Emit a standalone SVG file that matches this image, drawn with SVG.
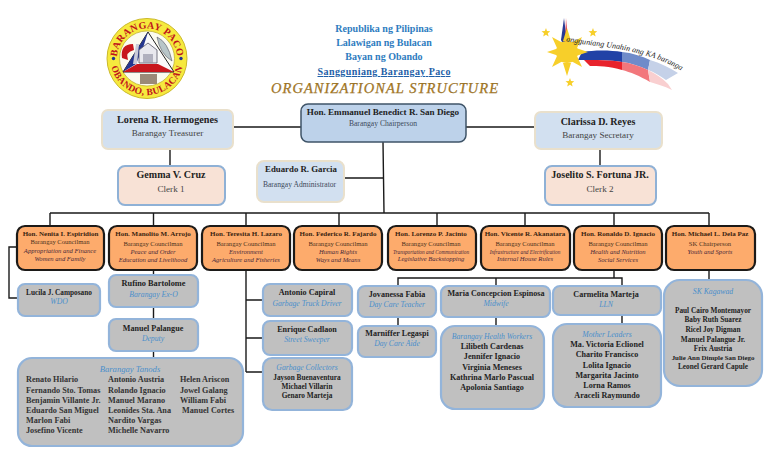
<svg xmlns="http://www.w3.org/2000/svg" width="768" height="466" viewBox="0 0 768 466">
<style>
text{font-family:"Liberation Serif","DejaVu Serif",serif;text-anchor:middle;fill:#2a2a2a}
.hd{font-weight:700;font-size:10px;fill:#2e7cc0}
.n{font-weight:700;font-size:10px;fill:#222}
.r{font-size:9.100px;fill:#444}
.cn{font-weight:700;font-size:7px;fill:#3a2410}
.cr{font-size:6.600px;fill:#4a3220}
.cr2{font-size:7.600px;fill:#3d4a5a}
.ci{font-style:italic;font-size:6.600px;fill:#4a2a3a}
.cs{font-style:italic;font-size:5.300px;fill:#4a2a3a}
.g{font-weight:700;font-size:8.100px;fill:#222}
.s{font-weight:700;font-size:7.300px;fill:#222}
.gi{font-style:italic;font-size:7.700px;fill:#4a8fcb}
.l{text-anchor:start;font-weight:700;font-size:8.200px;fill:#333}
.blue{fill:#d2e0f0;stroke:#e9e0cc;stroke-width:2}
.cl{fill:#f8e2d6;stroke:#8fb1d6;stroke-width:2}
.or{fill:#fdab6c;stroke:#1c1a18;stroke-width:2.200}
.gr{fill:#c0c0c0;stroke:#93b4da;stroke-width:2.200}
.c{fill:none;stroke:#1a1a1a;stroke-width:1.400}
.em{font-size:10px;font-weight:700;fill:#c0141c}
</style>
<defs>
<path id="arcT" d="M117 58.500A30 30 0 0 1 177 58.500"/>
<path id="arcB" d="M110.500 58.500A36.500 36.500 0 0 0 183.500 58.500"/>
<path id="arcS" d="M565 41C590 47 640 46 682 71"/>
</defs>
<rect width="768" height="466" fill="#fff"/>

<g id="emblem">
<circle cx="147" cy="58.500" r="40" fill="#f6e93e" stroke="#cbb92a" stroke-width="1"/>
<circle cx="147" cy="58.500" r="27.500" fill="#fbfbf0" stroke="#b9a92a" stroke-width=".7"/>
<path d="M123 72L148 32L174 72Z" fill="#fafafa" stroke="#222" stroke-width="1"/>
<path d="M123 72L148 32L143 48L136 64Z" fill="#24368f"/>
<path d="M123 72L137 64H158L174 72Z" fill="#c8161d"/>
<path d="M139 63V50L148 43L157 50V63Z" fill="#e8e8ee" stroke="#556" stroke-width=".8"/>
<path d="M143 63V54H153V63Z" fill="#99a" opacity=".7"/>
<path d="M157 37Q168 42 172 61Q160 54 157 37Z" fill="#b8c6c8" stroke="#556" stroke-width=".6"/>
<path d="M133 44Q120 44 122 58L128 60Q125 52 134 50Z" fill="#c8161d"/>
<path d="M136 44L133 64H137L139 44Z" fill="#c9cbd8"/>
<rect x="140" y="74" width="17" height="10" fill="#9b8a78"/>
<text class="em" letter-spacing=".3"><textPath href="#arcT" startOffset="50%">BARANGAY PACO</textPath></text>
<text class="em" style="font-size:9.500px" letter-spacing=".3"><textPath href="#arcB" startOffset="50%">OBANDO, BULACAN</textPath></text>
<circle cx="113.500" cy="58.500" r="1.700" fill="#24368f"/><circle cx="181" cy="58.500" r="1.700" fill="#24368f"/>
</g>

<g id="header">
<text class="hd" x="384" y="32">Republika ng Pilipinas</text>
<text class="hd" x="384" y="46">Lalawigan ng Bulacan</text>
<text class="hd" x="384" y="60">Bayan ng Obando</text>
<text x="384" y="75" style="font-weight:700;font-size:10px;fill:#1f5fa8;text-decoration:underline" textLength="133">Sangguniang Barangay Paco</text>
<text x="384.500" y="93" style="font-style:italic;font-size:14.500px;fill:#a9781f" textLength="227" stroke="#8a6a20" stroke-width=".25">ORGANIZATIONAL STRUCTURE</text>
</g>

<g id="flag-logo">
<path d="M564 18L561 40L565 48L566 34Z" fill="#2a3a94"/>
<path d="M566 18L565 46L568 44Z" fill="#dd2233"/>
<path d="M578 60L582 52C594 50 610 50 622 52L622 62C610 60 595 60 586 60Z" fill="#2142a6"/>
<path d="M622 52C632 53 642 56 650 60L648 70C640 66 630 63 622 62Z" fill="#6f8bc9"/>
<path d="M650 60C660 63 670 68 678 73L666 80C660 76 654 72 648 70Z" fill="#c5d1e8"/>
<path d="M584 60C595 60 610 60 622 62L622 70C610 66 597 66 590 66Z" fill="#e8232c"/>
<path d="M622 62C630 63 640 66 648 70L650 82C640 76 630 72 622 70Z" fill="#f2777c"/>
<path d="M648 70C656 74 662 78 668 84L672 90C664 86 656 84 650 82Z" fill="#f9cfd0"/>
<g fill="#f7cf2a">
<circle cx="567" cy="52" r="11"/>
<path d="M567 28l4 13h-8zM567 76l4-13h-8zM547 52l12 4v-8zM588 52l-12 4v-8zM552 37l11 6-6 5zM582 37l-11 6 6 5zM552 67l11-6-6-5zM582 67l-11-6 6-5z"/>
<path d="M546 28l1 3 3.300 .2-2.500 2 .8 3.300-2.600-1.800-2.800 1.800 .8-3.300-2.500-2 3.300-.2zM593 28l1 3 3.300 .2-2.500 2 .8 3.300-2.600-1.800-2.800 1.800 .8-3.300-2.500-2 3.300-.2zM570 78l1 3 3.300 .2-2.500 2 .8 3.300-2.600-1.800-2.800 1.800 .8-3.300-2.500-2 3.300-.2z"/>
</g>
<text style="font-style:italic;font-size:8px;fill:#222"><textPath href="#arcS" startOffset="50%">Sangguniang Unahin ang KA barangay</textPath></text>
</g>

<g id="connectors">
<path class="c" d="M233 127H301M466 127H535M170 149V166M600 149V166M383 142L384 213M344 178H383M50 213H709"/>
<path class="c" d="M50 213V226M153.500 213V226M246 213V226M339 213V226M437 213V226M525 213V226M614 213V226M709 213V226"/>
<path class="c" d="M17 247H9V298H18M153.500 270V275M153.500 307V319M153.500 351V358"/>
<path class="c" d="M246 270V372M246 300H263M246 338H263M246 372H263"/>
<path class="c" d="M614 270V278M398 286V278H622V286M496 278V286M398 317V326M496 317V326M622 315V324M709 270V280"/>
</g>

<g id="treasurer"><rect class="blue" x="102" y="110" width="131" height="39" rx="6"/><text class="n" style="font-size:10.200px" x="167.500" y="123">Lorena R. Hermogenes</text><text class="r" x="167.500" y="136">Barangay Treasurer</text></g>
<g id="clerk1"><rect class="cl" x="118" y="166" width="107" height="39" rx="7"/><text class="n" x="171" y="178">Gemma V. Cruz</text><text class="r" x="171" y="192">Clerk 1</text></g>
<g id="chair"><rect x="301" y="104" width="165" height="38" rx="7" fill="#bdd2ea" stroke="#3f5468" stroke-width="1.500"/><text class="n" style="font-size:9.100px" x="383" y="114.500">Hon. Emmanuel Benedict R. San Diego</text><text class="cr2" x="383" y="126">Barangay Chairperson</text></g>
<g id="admin"><rect class="blue" x="257" y="161" width="87" height="41" rx="7"/><text class="n" style="font-size:8.800px" x="301" y="172">Eduardo R. Garcia</text><text class="cr2" x="299.500" y="187">Barangay Administrator</text></g>
<g id="secretary"><rect class="blue" x="535" y="112" width="127" height="37" rx="6"/><text class="n" x="598" y="125">Clarissa D. Reyes</text><text class="r" x="598" y="138">Barangay Secretary</text></g>
<g id="clerk2"><rect class="cl" x="545" y="166" width="111" height="39" rx="7"/><text class="n" x="600" y="178">Joselito S. Fortuna JR.</text><text class="r" x="600" y="192">Clerk 2</text></g>

<g id="c1"><rect class="or" x="17" y="226" width="87" height="44" rx="8"/><text class="cn" x="60.500" y="236">Hon. Nenita I. Espiridion</text><text class="cr" x="60" y="243.500">Barangay Councilman</text><text class="ci" x="60" y="253">Appropriation and Finance</text><text class="ci" x="60" y="261">Women and Family</text></g>
<g id="c2"><rect class="or" x="109" y="226" width="88" height="44" rx="8"/><text class="cn" x="153" y="236">Hon. Manolito M. Arrojo</text><text class="cr" x="153" y="245.500">Barangay Councilman</text><text class="ci" x="153" y="254">Peace and Order</text><text class="ci" x="153" y="262">Education and Livelihood</text></g>
<g id="c3"><rect class="or" x="202" y="226" width="88" height="44" rx="8"/><text class="cn" x="246" y="236">Hon. Teresita H. Lazaro</text><text class="cr" x="246" y="245.500">Barangay Councilman</text><text class="ci" x="246" y="254">Environment</text><text class="ci" x="246" y="262">Agriculture and Fisheries</text></g>
<g id="c4"><rect class="or" x="294" y="226" width="88" height="44" rx="8"/><text class="cn" x="338" y="236">Hon. Federico R. Fajardo</text><text class="cr" x="338" y="245.500">Barangay Councilman</text><text class="ci" x="338" y="254">Human Rights</text><text class="ci" x="338" y="262">Ways and Means</text></g>
<g id="c5"><rect class="or" x="388" y="226" width="88" height="44" rx="8"/><text class="cn" x="431" y="236">Hon. Lorenzo P. Jacinto</text><text class="cr" x="431" y="245.500">Barangay Councilman</text><text class="cs" x="431" y="253.500">Transportation and Communication</text><text class="ci" x="431" y="261">Legislative Backstopping</text></g>
<g id="c6"><rect class="or" x="481" y="226" width="89" height="44" rx="8"/><text class="cn" x="525" y="236">Hon. Vicente R. Akanatara</text><text class="cr" x="525" y="245.500">Barangay Councilman</text><text class="cs" x="525" y="253.500">Infrastructure and Electrification</text><text class="ci" x="525" y="261">Internal House Rules</text></g>
<g id="c7"><rect class="or" x="574" y="226" width="88" height="44" rx="8"/><text class="cn" x="618" y="236">Hon. Ronaldo D. Ignacio</text><text class="cr" x="618" y="245.500">Barangay Councilman</text><text class="ci" x="618" y="254">Health and Nutrition</text><text class="ci" x="618" y="262">Social Services</text></g>
<g id="c8"><rect class="or" x="666" y="226" width="89" height="44" rx="8"/><text class="cn" x="710" y="236">Hon. Michael L. Dela Paz</text><text class="cr" x="710" y="245.500">SK Chairperson</text><text class="ci" x="710" y="254">Youth and Sports</text></g>

<g id="lucila"><rect class="gr" x="18" y="284" width="82" height="32" rx="7"/><text class="s" x="59" y="295">Lucila J. Camposano</text><text class="gi" x="59" y="304">WDO</text></g>
<g id="rufino"><rect class="gr" x="109" y="275" width="89" height="32" rx="7"/><text class="g" style="font-size:8.300px" x="153.500" y="286">Rufino Bartolome</text><text class="gi" x="153.500" y="297">Barangay Ex-O</text></g>
<g id="manuel"><rect class="gr" x="109" y="319" width="89" height="32" rx="7"/><text class="g" x="153" y="331">Manuel Palangue</text><text class="gi" x="153" y="341">Deputy</text></g>
<g id="tanods"><rect class="gr" x="18" y="358" width="225" height="88" rx="14"/>
<text class="gi" style="font-size:8.600px" x="130" y="372">Barangay Tanods</text>
<text class="l" x="26" y="382">Renato Hilario</text><text class="l" x="26" y="392.500">Fernando Sto. Tomas</text><text class="l" x="26" y="402.500">Benjamin Villante Jr.</text><text class="l" x="26" y="412.500">Eduardo San Miguel</text><text class="l" x="26" y="423">Marlon Fabi</text><text class="l" x="26" y="433">Josefino Vicente</text>
<text class="l" x="108" y="382">Antonio Austria</text><text class="l" x="108" y="392.500">Rolando Ignacio</text><text class="l" x="108" y="402.500">Manuel Marano</text><text class="l" x="108" y="412.500">Leonides Sta. Ana</text><text class="l" x="108" y="423">Nardito Vargas</text><text class="l" x="108" y="433">Michelle Navarro</text>
<text class="l" x="180" y="382">Helen Ariscon</text><text class="l" x="180" y="392.500">Jowel Galang</text><text class="l" x="180" y="402.500">William Fabi</text><text class="l" x="182" y="412.500">Manuel Cortes</text></g>
<g id="antonio"><rect class="gr" x="263" y="284" width="89" height="32" rx="7"/><text class="g" x="307" y="295">Antonio Capiral</text><text class="gi" x="307" y="306">Garbage Truck Driver</text></g>
<g id="enrique"><rect class="gr" x="263" y="321" width="89" height="34" rx="7"/><text class="g" x="307" y="332">Enrique Cadlaon</text><text class="gi" x="307" y="342">Street Sweeper</text></g>
<g id="garbage"><rect class="gr" x="263" y="358" width="89" height="52" rx="9"/><text class="gi" x="307" y="370">Garbage Collectors</text><text class="s" x="307" y="379.500">Jayson Buenaventura</text><text class="s" x="307" y="389">Michael Villarin</text><text class="s" x="307" y="398">Genaro Marteja</text></g>
<g id="jovanessa"><rect class="gr" x="358" y="286" width="78" height="31" rx="7"/><text class="g" x="397" y="297">Jovanessa Fabia</text><text class="gi" x="397" y="307">Day Care Teacher</text></g>
<g id="marniffer"><rect class="gr" x="358" y="326" width="78" height="31" rx="7"/><text class="g" x="397" y="336">Marniffer Legaspi</text><text class="gi" x="397" y="346">Day Care Aide</text></g>
<g id="maria"><rect class="gr" x="441" y="286" width="109" height="31" rx="7"/><text class="g" x="496" y="296">Maria Concepcion Espinosa</text><text class="gi" x="496" y="306">Midwife</text></g>
<g id="bhw"><rect class="gr" x="441" y="326" width="103" height="83" rx="14"/><text class="gi" x="492" y="339">Barangay Health Workers</text><text class="g" x="492" y="349">Lilibeth Cardenas</text><text class="g" x="492" y="359">Jennifer Ignacio</text><text class="g" x="492" y="369.500">Virginia Meneses</text><text class="g" x="492" y="379.500">Kathrina Marlo Pascual</text><text class="g" x="492" y="390">Apolonia Santiago</text></g>
<g id="carmelita"><rect class="gr" x="553" y="286" width="108" height="29" rx="7"/><text class="g" x="606" y="297">Carmelita Marteja</text><text class="gi" x="606" y="307">LLN</text></g>
<g id="mothers"><rect class="gr" x="553" y="324" width="108" height="83" rx="14"/><text class="gi" x="607" y="337">Mother Leaders</text><text class="g" x="607" y="347">Ma. Victoria Eclionel</text><text class="g" x="607" y="357">Charito Francisco</text><text class="g" x="607" y="367.500">Lolita Ignacio</text><text class="g" x="607" y="378">Margarita Jacinto</text><text class="g" x="607" y="388">Lorna Ramos</text><text class="g" x="607" y="398">Araceli Raymundo</text></g>
<g id="sk"><rect class="gr" x="664" y="280" width="98" height="106" rx="16"/><text class="gi" x="713" y="294">SK Kagawad</text><text class="s" x="713" y="313">Paul Cairo Montemayor</text><text class="s" x="713" y="322">Baby Ruth Suarez</text><text class="s" x="713" y="332">Ricel Joy Digman</text><text class="s" x="713" y="342">Manuel Palangue Jr.</text><text class="s" x="713" y="351">Frix Austria</text><text class="s" style="font-size:6.900px" x="713" y="359.500">Julie Ann Dimple San Diego</text><text class="s" x="713" y="368.500">Leonel Gerard Capule</text></g>
</svg>
